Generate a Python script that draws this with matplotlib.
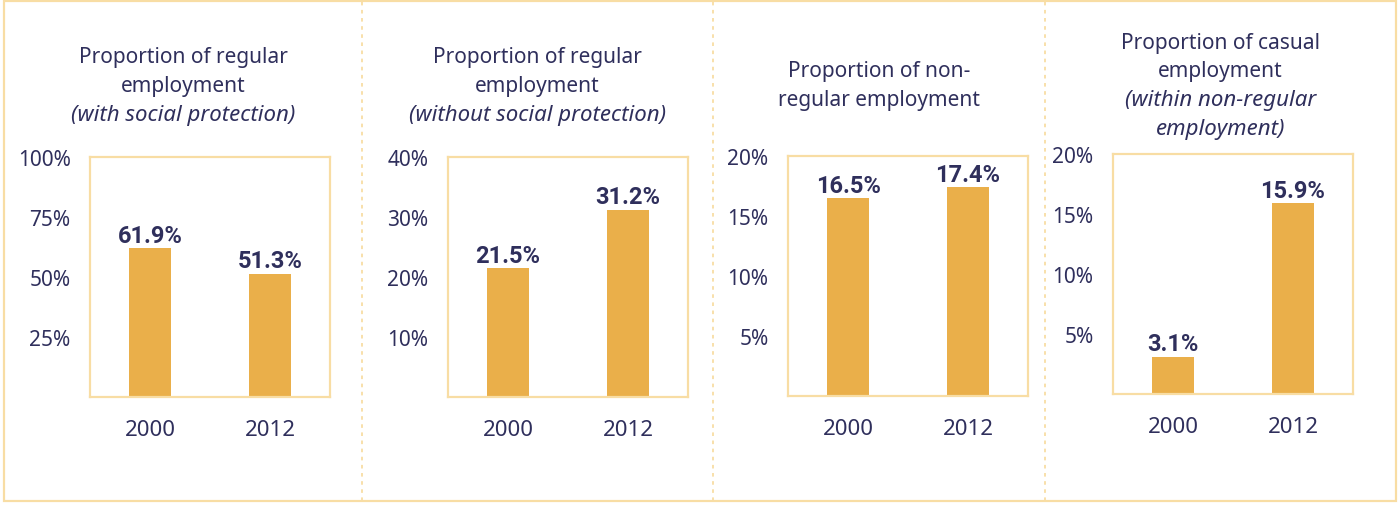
import matplotlib.pyplot as plt
from matplotlib.lines import Line2D
from matplotlib.patches import Rectangle

W, H = 1400, 506

years = ["2000", "2012"]
titles = [
    ["Proportion of regular", "employment"],
    ["Proportion of regular", "employment"],
    ["Proportion of non-", "regular employment"],
    ["Proportion of casual", "employment"],
]
subtitles = [
    ["(with social protection)"],
    ["(without social protection)"],
    [],
    ["(within non-regular", "employment)"],
]
values = [
    [61.9, 51.3],
    [21.5, 31.2],
    [16.5, 17.4],
    [3.1, 15.9],
]
ymax = [100, 40, 20, 20]
yticks = [
    [25, 50, 75, 100],
    [10, 20, 30, 40],
    [5, 10, 15, 20],
    [5, 10, 15, 20],
]

# pixel layout: (axes left, axes top) and panel bounds
axes_pos = [(90, 158), (448, 158), (788, 157), (1113, 155)]
panel_bounds = [(4, 362), (362, 713), (713, 1045), (1045, 1396)]
dividers = [362, 713, 1045]

BAR = "#EAAF4A"
FRAME = "#F8DDA4"
TEXT = "#2F2F5C"
FONT = "Noto Sans"
BOLD_FONT = ["Roboto", "DejaVu Sans"]

fig = plt.figure(figsize=(W / 100, H / 100), dpi=100)
fig.patch.set_facecolor("white")

# outer frame
fig.add_artist(Rectangle((4 / W, 1 - 502 / H), 1392 / W, 500 / H,
                         transform=fig.transFigure, fill=False,
                         edgecolor=FRAME, linewidth=1.6))
for x in dividers:
    fig.add_artist(Line2D([x / W, x / W], [1 - 502 / H, 1 - 2 / H],
                          transform=fig.transFigure, color=FRAME,
                          linewidth=1.3, linestyle=(0, (2, 2.5))))

for i in range(4):
    left, top = axes_pos[i]
    ax = fig.add_axes([left / W, 1 - (top + 240) / H, 240 / W, 240 / H])
    ax.bar([0, 1], values[i], width=0.35, color=BAR, zorder=2)
    ax.set_xlim(-0.5, 1.5)
    ax.set_ylim(0, ymax[i])
    ax.set_yticks(yticks[i])
    ax.set_yticklabels([f"{t}%" for t in yticks[i]])
    ax.set_xticks([0, 1])
    ax.set_xticklabels(years)
    ax.tick_params(length=0, colors=TEXT)
    ax.tick_params(axis="y", pad=14, labelsize=15)
    ax.tick_params(axis="x", pad=16, labelsize=16)
    for lab in ax.get_xticklabels() + ax.get_yticklabels():
        lab.set_fontfamily(FONT)
    for s in ax.spines.values():
        s.set_color(FRAME)
        s.set_linewidth(1.6)
    for x, v in zip([0, 1], values[i]):
        ax.annotate(f"{v}%", (x, v), xytext=(0, 1), textcoords="offset points",
                    ha="center", va="bottom", fontsize=17, fontweight="bold",
                    color=TEXT, family=BOLD_FONT)

    # title block centred in the panel
    lines = [(t, "normal") for t in titles[i]] + [(t, "italic") for t in subtitles[i]]
    cx = sum(panel_bounds[i]) / 2
    n = len(lines)
    y0 = 86.5 - (n - 1) * 29 / 2
    for k, (txt, style) in enumerate(lines):
        fig.text(cx / W, 1 - (y0 + k * 29) / H, txt, ha="center", va="center",
                 fontsize=15 if style == "normal" else 16, style=style,
                 color=TEXT, family=FONT)

fig.savefig("out.png", dpi=100, facecolor="white")
